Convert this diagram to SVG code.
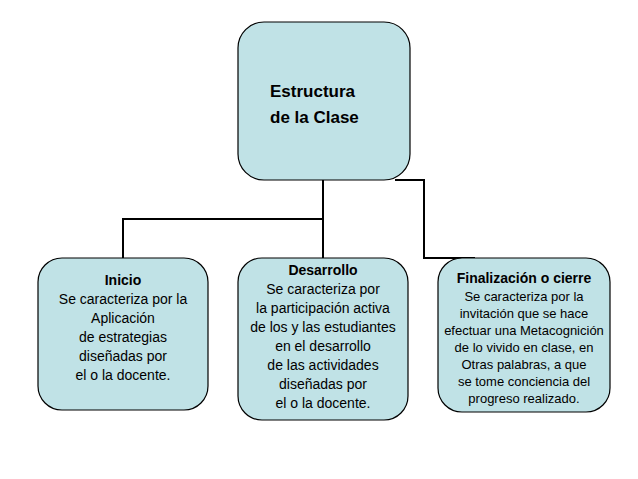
<svg xmlns="http://www.w3.org/2000/svg" width="638" height="479" viewBox="0 0 638 479">
<style>
.b{fill:#c0e2e6;stroke:#000;stroke-width:1.2}
text{font-family:"Liberation Sans",Arial,sans-serif;fill:#000}
.t{font-size:14px;text-anchor:middle}
.s{font-size:13px;text-anchor:middle}
.h{font-weight:bold}
.c{fill:none;stroke:#000;stroke-width:2}
</style>
<rect width="638" height="479" fill="#fff"/>
<g id="connectors">
<path class="c" d="M323 180V258M123 258V219H323M395 180H424V258H475"/>
</g>
<g id="root">
<rect class="b" x="238" y="22" width="172" height="158" rx="26"/>
<text x="270" y="97" font-size="17" class="h">Estructura</text>
<text x="270" y="123" font-size="17" class="h">de la Clase</text>
</g>
<g id="inicio">
<rect class="b" x="38" y="258" width="170" height="152" rx="24"/>
<text class="t" x="123" y="285"><tspan class="h">Inicio</tspan><tspan x="123" dy="19">Se caracteriza por la</tspan><tspan x="123" dy="19">Aplicación</tspan><tspan x="123" dy="19">de estrategias</tspan><tspan x="123" dy="19">diseñadas por</tspan><tspan x="123" dy="19">el o la docente.</tspan></text>
</g>
<g id="desarrollo">
<rect class="b" x="238" y="258" width="170" height="162" rx="24"/>
<text class="t" x="323" y="275"><tspan class="h">Desarrollo</tspan><tspan x="323" dy="19">Se caracteriza por</tspan><tspan x="323" dy="19">la participación activa</tspan><tspan x="323" dy="19">de los y las estudiantes</tspan><tspan x="323" dy="19">en el desarrollo</tspan><tspan x="323" dy="19">de las actividades</tspan><tspan x="323" dy="19">diseñadas por</tspan><tspan x="323" dy="19">el o la docente.</tspan></text>
</g>
<g id="final">
<rect class="b" x="438" y="258" width="172" height="154" rx="24"/>
<text class="s" x="524" y="283"><tspan class="h" font-size="14">Finalización o cierre</tspan><tspan x="524" dy="18">Se caracteriza por la</tspan><tspan x="524" dy="17">invitación que se hace</tspan><tspan x="524" dy="17">efectuar una Metacognición</tspan><tspan x="524" dy="17">de lo vivido en clase, en</tspan><tspan x="524" dy="17">Otras palabras, a que</tspan><tspan x="524" dy="17">se tome conciencia del</tspan><tspan x="524" dy="17">progreso realizado.</tspan></text>
</g>
</svg>
